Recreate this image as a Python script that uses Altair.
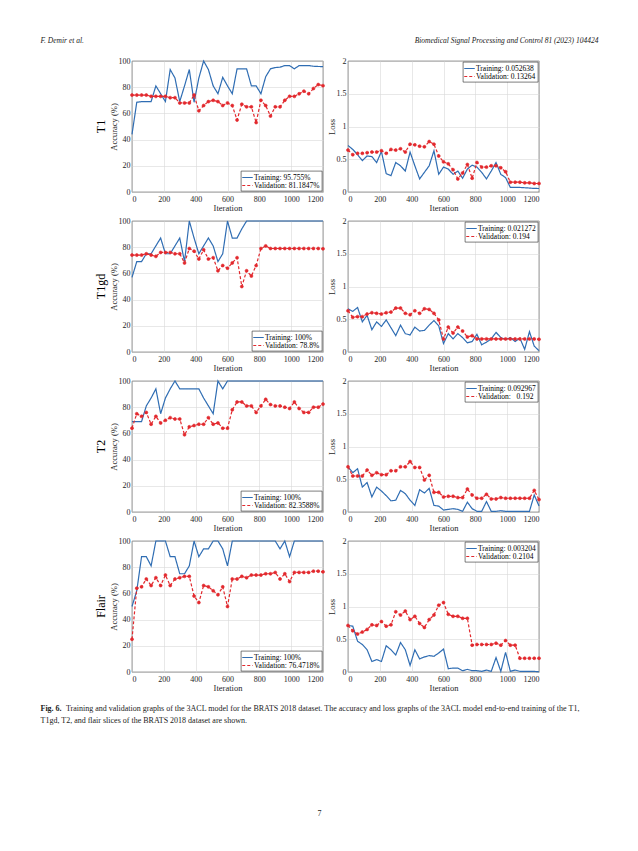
import altair as alt
import pandas as pd

SERIF = "Liberation Serif"
BLUE = "#2F6DB3"
RED = "#E2282D"
DARK = "#262626"

ITER = [0, 30, 60, 90, 120, 150, 180, 210, 240, 270, 300, 330, 360, 390, 420, 450, 480, 510,
        540, 570, 600, 630, 660, 690, 720, 750, 780, 810, 840, 870, 900, 930, 960, 990, 1020,
        1050, 1080, 1110, 1140, 1170, 1200]

ROW_LABELS = ["T1", "T1gd", "T2", "Flair"]

# ---- T1 ----
T1_ACC_TRAIN = [44, 68.5, 69, 69, 69, 81, 75, 69, 93.5, 87, 69, 81, 93.5, 68.5, 87, 100, 93.5, 81, 75, 87.5,
                81, 75, 94, 94, 94, 81, 81, 75, 88, 94, 95, 95.3, 96.5, 96.5, 94, 96.5, 96.5, 96.5, 96, 95.8, 95.755]
T1_ACC_VAL = [74, 74, 74, 74, 73, 73, 73, 73, 72, 72, 68, 68, 68, 74, 62, 66, 69, 70, 69, 66,
              68, 66, 55, 67, 65, 65, 53, 70, 66, 58, 65, 65, 70, 73, 73, 75, 77, 75, 79, 82, 81.18]
T1_LOSS_TRAIN = [0.71, 0.65, 0.57, 0.48, 0.55, 0.54, 0.45, 0.62, 0.28, 0.25, 0.45, 0.40, 0.32, 0.61, 0.40,
                 0.20, 0.30, 0.40, 0.63, 0.27, 0.38, 0.35, 0.27, 0.32, 0.21, 0.35, 0.41, 0.38, 0.30, 0.20,
                 0.32, 0.45, 0.27, 0.22, 0.07, 0.07, 0.07, 0.065, 0.06, 0.055, 0.053]
T1_LOSS_VAL = [0.64, 0.57, 0.59, 0.59, 0.60, 0.61, 0.61, 0.63, 0.59, 0.65, 0.64, 0.66, 0.61, 0.73, 0.72,
               0.70, 0.69, 0.77, 0.73, 0.55, 0.46, 0.43, 0.34, 0.20, 0.29, 0.42, 0.21, 0.45, 0.38, 0.38,
               0.40, 0.40, 0.37, 0.31, 0.15, 0.15, 0.15, 0.14, 0.14, 0.13, 0.13]

# ---- T1gd ----
T1GD_ACC_TRAIN = [57, 69, 69, 75, 75, 81, 87, 75, 75, 81, 87, 69, 100, 87, 75, 81, 87, 81, 69, 75,
                  100, 87, 87, 94, 100, 100, 100, 100, 100, 100, 100, 100, 100, 100, 100, 100, 100, 100, 100, 100, 100]
T1GD_ACC_VAL = [74, 74, 74, 75, 74, 73, 76, 76, 76, 75, 75, 68, 79, 77, 71, 78, 71, 72, 62, 66,
                64, 68, 72, 50, 62, 58, 66, 79, 81, 79, 79, 79, 79, 79, 79, 79, 79, 79, 79, 79, 78.8]
T1GD_LOSS_TRAIN = [0.66, 0.62, 0.68, 0.46, 0.56, 0.34, 0.46, 0.39, 0.49, 0.37, 0.25, 0.41, 0.28, 0.26, 0.38,
                   0.32, 0.33, 0.41, 0.48, 0.40, 0.13, 0.28, 0.20, 0.28, 0.22, 0.14, 0.16, 0.27, 0.11, 0.15,
                   0.20, 0.30, 0.22, 0.19, 0.22, 0.16, 0.21, 0.04, 0.31, 0.09, 0.02]
T1GD_LOSS_VAL = [0.63, 0.53, 0.54, 0.54, 0.58, 0.60, 0.59, 0.58, 0.60, 0.61, 0.67, 0.67, 0.59, 0.57, 0.63,
                 0.59, 0.66, 0.65, 0.59, 0.49, 0.20, 0.38, 0.29, 0.38, 0.32, 0.23, 0.25, 0.20, 0.20, 0.20,
                 0.20, 0.20, 0.20, 0.20, 0.20, 0.20, 0.20, 0.20, 0.20, 0.20, 0.194]

# ---- T2 ----
T2_ACC_TRAIN = [69, 69, 69, 81, 87, 94, 75, 87, 94, 100, 94, 94, 94, 94, 94, 87, 81, 75, 100, 94,
                100, 100, 100, 100, 100, 100, 100, 100, 100, 100, 100, 100, 100, 100, 100, 100, 100, 100, 100, 100, 100]
T2_ACC_VAL = [64, 75, 73, 76, 67, 73, 68, 70, 72, 71, 71, 59, 65, 66, 67, 67, 72, 67, 68, 64,
              64, 78, 84, 84, 81, 81, 76, 81, 86, 82, 81, 81, 80, 79, 84, 79, 76, 76, 80, 80, 82.36]
T2_LOSS_TRAIN = [0.69, 0.60, 0.66, 0.38, 0.45, 0.23, 0.38, 0.32, 0.25, 0.17, 0.18, 0.33, 0.28, 0.18, 0.10,
                 0.34, 0.29, 0.36, 0.10, 0.09, 0.03, 0.04, 0.05, 0.04, 0.01, 0.15, 0.05, 0.01, 0.01, 0.16,
                 0.01, 0.01, 0.02, 0.01, 0.01, 0.01, 0.01, 0.01, 0.01, 0.26, 0.093]
T2_LOSS_VAL = [0.69, 0.55, 0.55, 0.55, 0.64, 0.56, 0.60, 0.57, 0.57, 0.63, 0.63, 0.69, 0.69, 0.77, 0.68,
               0.68, 0.49, 0.56, 0.30, 0.30, 0.23, 0.24, 0.24, 0.22, 0.22, 0.35, 0.26, 0.21, 0.21, 0.27,
               0.20, 0.20, 0.22, 0.21, 0.21, 0.21, 0.21, 0.21, 0.21, 0.33, 0.19]

# ---- Flair ----
FL_ACC_TRAIN = [50, 62, 88, 88, 81, 100, 100, 100, 88, 88, 75, 75, 81, 100, 88, 94, 94, 100, 100, 94,
                81, 100, 100, 100, 100, 100, 100, 100, 100, 100, 100, 94, 100, 88, 100, 100, 100, 100, 100, 100, 100]
FL_ACC_VAL = [25, 64, 65, 71, 66, 72, 66, 74, 66, 71, 72, 73, 73, 58, 53, 66, 65, 62, 59, 65,
              50, 71, 71, 73, 72, 74, 74, 74, 75, 75, 76, 71, 75, 69, 76, 76, 76, 76, 77, 77, 76.47]
FL_LOSS_TRAIN = [0.71, 0.70, 0.47, 0.42, 0.34, 0.16, 0.19, 0.16, 0.40, 0.34, 0.26, 0.45, 0.34, 0.10, 0.34,
                 0.20, 0.23, 0.25, 0.24, 0.29, 0.35, 0.05, 0.06, 0.06, 0.02, 0.04, 0.02, 0.02, 0.01, 0.03,
                 0.01, 0.22, 0.01, 0.30, 0.01, 0.03, 0.01, 0.01, 0.01, 0.01, 0.003]
FL_LOSS_VAL = [0.71, 0.63, 0.58, 0.61, 0.65, 0.72, 0.71, 0.77, 0.70, 0.72, 0.92, 0.87, 0.93, 0.80, 0.85,
               0.74, 0.68, 0.80, 0.87, 1.02, 1.06, 0.88, 0.85, 0.85, 0.82, 0.82, 0.41, 0.42, 0.42, 0.42,
               0.42, 0.44, 0.41, 0.48, 0.41, 0.41, 0.21, 0.21, 0.21, 0.21, 0.21]

ACC_LEGENDS = [("Training: 95.755%", "Validation: 81.1847%"),
               ("Training: 100%", "Validation: 78.8%"),
               ("Training: 100%", "Validation: 82.3588%"),
               ("Training: 100%", "Validation: 76.4718%")]
LOSS_LEGENDS = [("Training: 0.052638", "Validation: 0.13264"),
                ("Training: 0.021272", "Validation: 0.194"),
                ("Training: 0.092967", "Validation:\u00a0\u00a0\u00a00.192"),
                ("Training: 0.003204", "Validation: 0.2104")]

X_TICKS = [0, 200, 400, 600, 800, 1000, 1200]
ACC_TICKS = [0, 20, 40, 60, 80, 100]
LOSS_TICKS = [0, 0.5, 1, 1.5, 2]

HEADER_LEFT = "F. Demir et al."
HEADER_RIGHT = "Biomedical Signal Processing and Control 81 (2023) 104424"
CAPTION_BOLD = "Fig. 6."
CAPTION_1 = ("Training and validation graphs of the 3ACL model for the BRATS 2018 dataset. "
             "The accuracy and loss graphs of the 3ACL model end-to-end training of the T1,")
CAPTION_2 = "T1gd, T2, and flair slices of the BRATS 2018 dataset are shown."
PAGE_NO = "7"

W, H = 191, 131
BOX = alt.ViewBackground(stroke=DARK, strokeWidth=0.7)
NOBOX = alt.ViewBackground(stroke="transparent")


def panel(train, val, labels, kind, row_label=None):
    lt, lv = labels
    df = pd.DataFrame({"iter": ITER + ITER, "value": train + val,
                       "series": [lt] * len(ITER) + [lv] * len(ITER)})
    dv = pd.DataFrame({"iter": ITER, "value": val})
    if kind == "acc":
        ydom, yticks, ytitle, orient, fmt = [0, 100], ACC_TICKS, "Accuracy (%)", "bottom-right", "d"
    else:
        ydom, yticks, ytitle, orient, fmt = [0, 2], LOSS_TICKS, "Loss", "top-right", "~g"
    x = alt.X("iter:Q", scale=alt.Scale(domain=[0, 1200], nice=False, zero=False),
              axis=alt.Axis(values=X_TICKS, tickCount=20, title="Iteration", format="d"))
    y = alt.Y("value:Q", scale=alt.Scale(domain=ydom, nice=False),
              axis=alt.Axis(values=yticks, tickCount=20, title=ytitle, format=fmt,
                            labelPadding=2, titlePadding=0))
    leg = alt.Legend(orient=orient, title=None)
    line = alt.Chart(df).mark_line(strokeWidth=1.2).encode(
        x=x, y=y,
        color=alt.Color("series:N", scale=alt.Scale(domain=[lt, lv], range=[BLUE, RED]), legend=leg),
        strokeDash=alt.StrokeDash("series:N", scale=alt.Scale(domain=[lt, lv], range=[[1, 0], [3, 2]]),
                                  legend=leg),
    )
    pts = alt.Chart(dv).mark_point(filled=True, size=9, color=RED, opacity=1,
                                   stroke=RED, strokeWidth=0.6).encode(x="iter:Q", y="value:Q")
    layers = [line, pts]
    if row_label is not None:
        lab = alt.Chart(pd.DataFrame({"t": [row_label]})).mark_text(
            angle=270, font=SERIF, fontSize=12, color="black", baseline="middle", align="center"
        ).encode(text="t:N", x=alt.value(-31), y=alt.value(H / 2))
        layers.append(lab)
    return alt.layer(*layers).properties(width=W, height=H, view=BOX)


def text_cell(items):
    layers = []
    for txt, xv, yv, align, weight, style, size in items:
        layers.append(alt.Chart(pd.DataFrame({"t": [txt]})).mark_text(
            align=align, baseline="middle", font=SERIF, fontSize=size, fontWeight=weight,
            fontStyle=style, color="#1a1a1a"
        ).encode(text="t:N", x=alt.value(xv), y=alt.value(yv)))
    return alt.layer(*layers).properties(width=W, height=1, view=NOBOX)


hdr_left = text_cell([(HEADER_LEFT, -91.5, 10, "left", "normal", "italic", 7.5)])
hdr_right = text_cell([(HEADER_RIGHT, 250.5, 10, "right", "normal", "italic", 7.5)])

panels = []
acc_data = [(T1_ACC_TRAIN, T1_ACC_VAL), (T1GD_ACC_TRAIN, T1GD_ACC_VAL),
            (T2_ACC_TRAIN, T2_ACC_VAL), (FL_ACC_TRAIN, FL_ACC_VAL)]
loss_data = [(T1_LOSS_TRAIN, T1_LOSS_VAL), (T1GD_LOSS_TRAIN, T1GD_LOSS_VAL),
             (T2_LOSS_TRAIN, T2_LOSS_VAL), (FL_LOSS_TRAIN, FL_LOSS_VAL)]
for i in range(4):
    panels.append(panel(acc_data[i][0], acc_data[i][1], ACC_LEGENDS[i], "acc", ROW_LABELS[i]))
    panels.append(panel(loss_data[i][0], loss_data[i][1], LOSS_LEGENDS[i], "loss"))

caption = text_cell([
    (CAPTION_BOLD, -91.5, 8, "left", "bold", "normal", 8),
    (CAPTION_1, -66, 8, "left", "normal", "normal", 8),
    (CAPTION_2, -91.5, 20, "left", "normal", "normal", 8),
    (PAGE_NO, 187.5, 113, "center", "normal", "normal", 8),
])

chart = alt.concat(hdr_left, hdr_right, *panels, caption, columns=2, spacing={"row": 29, "column": 25},
                   bounds="flush", align="each").resolve_scale(
    color="independent", strokeDash="independent", x="independent", y="independent"
).resolve_legend(color="independent", strokeDash="independent").properties(
    padding={"left": 32, "top": 22, "right": 5, "bottom": 5}
).configure_view(stroke="transparent").configure_axis(
    labelFont=SERIF, labelFontSize=8, labelColor=DARK, titleFont=SERIF, titleFontSize=8.5,
    titleFontWeight="normal", titleColor=DARK, domain=False, ticks=False, labelPadding=3,
    titlePadding=1, gridColor="#d9d9d9", gridWidth=0.6, labelOverlap=False, labelBound=False
).configure_axisX(titlePadding=0).configure_legend(
    labelFont=SERIF, labelFontSize=7.5, labelColor="black", symbolType="M-1.5,0H1.5", symbolSize=49,
    symbolStrokeWidth=1.2, rowPadding=0, padding=2, offset=1, fillColor="white", strokeColor=DARK,
    strokeWidth=0.6, labelOffset=2, labelLimit=300, cornerRadius=0
)

chart.save("out.html", embed_options={"renderer": "svg", "actions": False})
